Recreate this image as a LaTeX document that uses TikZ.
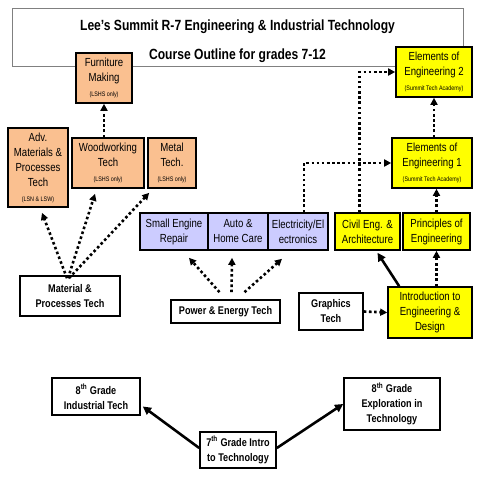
\documentclass[tikz,border=0pt]{standalone}
\usepackage{fontspec}
\setmainfont{Liberation Sans}[FakeStretch=0.82]
\usetikzlibrary{arrows.meta,positioning,calc}
\definecolor{peach}{RGB}{250,192,144}
\definecolor{lavender}{RGB}{204,204,255}
\definecolor{yel}{RGB}{255,255,0}
\newcommand{\smalltxt}[1]{{\fontsize{5.6}{6}\selectfont #1}}

\begin{document}
\begin{tikzpicture}[x=0.03cm,y=-0.03cm,
  box/.style={draw,line width=1.4pt,align=center,inner sep=0pt,font=\fontsize{10}{12.8}\selectfont},
  bbox/.style={box,fill=white,font=\bfseries\fontsize{9.5}{12.8}\selectfont},
  sz/.style 2 args={minimum width=#1*0.03cm,minimum height=#2*0.03cm},
  dots/.style={line width=2.2pt,dash pattern=on 2.2pt off 2.2pt,-{Triangle[length=6pt,width=6pt]}},
  solid arr/.style={line width=2.2pt,-{Triangle[length=7pt,width=7pt]}}]
\useasboundingbox (0,0) rectangle (480,480);

\node (title) at (237.5,37.5) [draw=gray,line width=0.6pt,sz={451}{55},align=center,
  font=\bfseries\fontsize{12.6}{14.2}\selectfont]
  {\rule{0pt}{16pt}Lee's Summit R-7 Engineering \& Industrial Technology\\[10.5pt]Course Outline for grades 7-12};

\node (furn) at (104,78) [box,fill=peach,sz={56}{50}] {Furniture\\Making\\\smalltxt{(LSHS only)}};
\node (adv) at (38,167.5) [box,fill=peach,sz={60}{79}] {Adv.\\Materials \&\\Processes\\Tech\\\smalltxt{(LSN \& LSW)}};
\node (wood) at (108,163) [box,fill=peach,sz={72}{50}] {Woodworking\\Tech\\\smalltxt{(LSHS only)}};
\node (metal) at (172,163) [box,fill=peach,sz={48}{50}] {Metal\\Tech.\\\smalltxt{(LSHS only)}};
\node (mat) at (70,296) [bbox,sz={100}{40}] {Material \&\\Processes Tech};

\node (eng) at (174,231.5) [box,fill=lavender,sz={68}{37}] {Small Engine\\Repair};
\node (auto) at (238,231.5) [box,fill=lavender,sz={60}{37}] {Auto \&\\Home Care};
\node (elec) at (298,231.5) [box,fill=lavender,sz={60}{37}] {Electricity/El\\ectronics};
\node (power) at (225.5,311.5) [bbox,sz={109}{23}] {Power \& Energy Tech};

\node (civil) at (367.5,231.5) [box,fill=yel,sz={65}{37}] {Civil Eng. \&\\Architecture};
\node (prin) at (436.5,231.5) [box,fill=yel,sz={67}{37}] {Principles of\\Engineering};
\node (ee1) at (432,163) [box,fill=yel,sz={80}{50}] {Elements of\\Engineering 1\\\smalltxt{(Summit Tech Academy)}};
\node (ee2) at (434,72) [box,fill=yel,sz={76}{50}] {Elements of\\Engineering 2\\\smalltxt{(Summit Tech Academy)}};
\node (intro) at (430,312.5) [box,fill=yel,sz={84}{51}] {Introduction to\\Engineering \&\\Design};
\node (graph) at (331,311.5) [bbox,sz={64}{37}] {Graphics\\Tech};

\node (ind) at (96,396.5) [bbox,sz={88}{37}] {8\textsuperscript{th} Grade\\Industrial Tech};
\node (expl) at (392,404) [bbox,sz={96}{52}] {8\textsuperscript{th} Grade\\Exploration in\\Technology};
\node (seventh) at (238,450) [bbox,sz={76}{36}] {7\textsuperscript{th} Grade Intro\\to Technology};

\draw[dots] (furn.south |- wood.north) -- (furn.south);
\draw[dots] ($(mat.north)+(-3,3)$) -- ($(adv.south)+(4,5)$);
\draw[dots] ($(mat.north)+(-2,3)$) -- ($(wood.south)+(-13,5)$);
\draw[dots] ($(mat.north)+(-1,3)$) -- ($(metal.south west)+(2,4)$);

\draw[dots] ($(power.north)+(-6,-7)$) -- ($(eng.south)+(15,7)$);
\draw[dots] ($(power.north)+(6,-7)$) -- ($(auto.south)+(-6,7)$);
\draw[dots] ($(power.north)+(19,-7)$) -- ($(elec.south)+(-16,8)$);

\draw[dots] ($(elec.north)+(6,0)$) |- (ee1.west);
\draw[dots] ($(civil.north)+(-8,0)$) |- (ee2.west);
\draw[dots] (ee2.south |- ee1.north) -- (ee2.south);
\draw[dots] (prin.north) -- (prin.north |- ee1.south);
\draw[dots] (intro.north -| prin.north) -- (prin.south);
\draw[dots] (graph.east) -- (intro.west);
\draw[solid arr] ($(intro.north west)+(12,0)$) -- ($(civil.south)+(10,2)$);

\draw[solid arr] ($(seventh.west)+(0,-2)$) -- ($(ind.east)+(2,10)$);
\draw[solid arr] ($(seventh.east)+(0,-2)$) -- (expl.west);
\end{tikzpicture}
\end{document}
